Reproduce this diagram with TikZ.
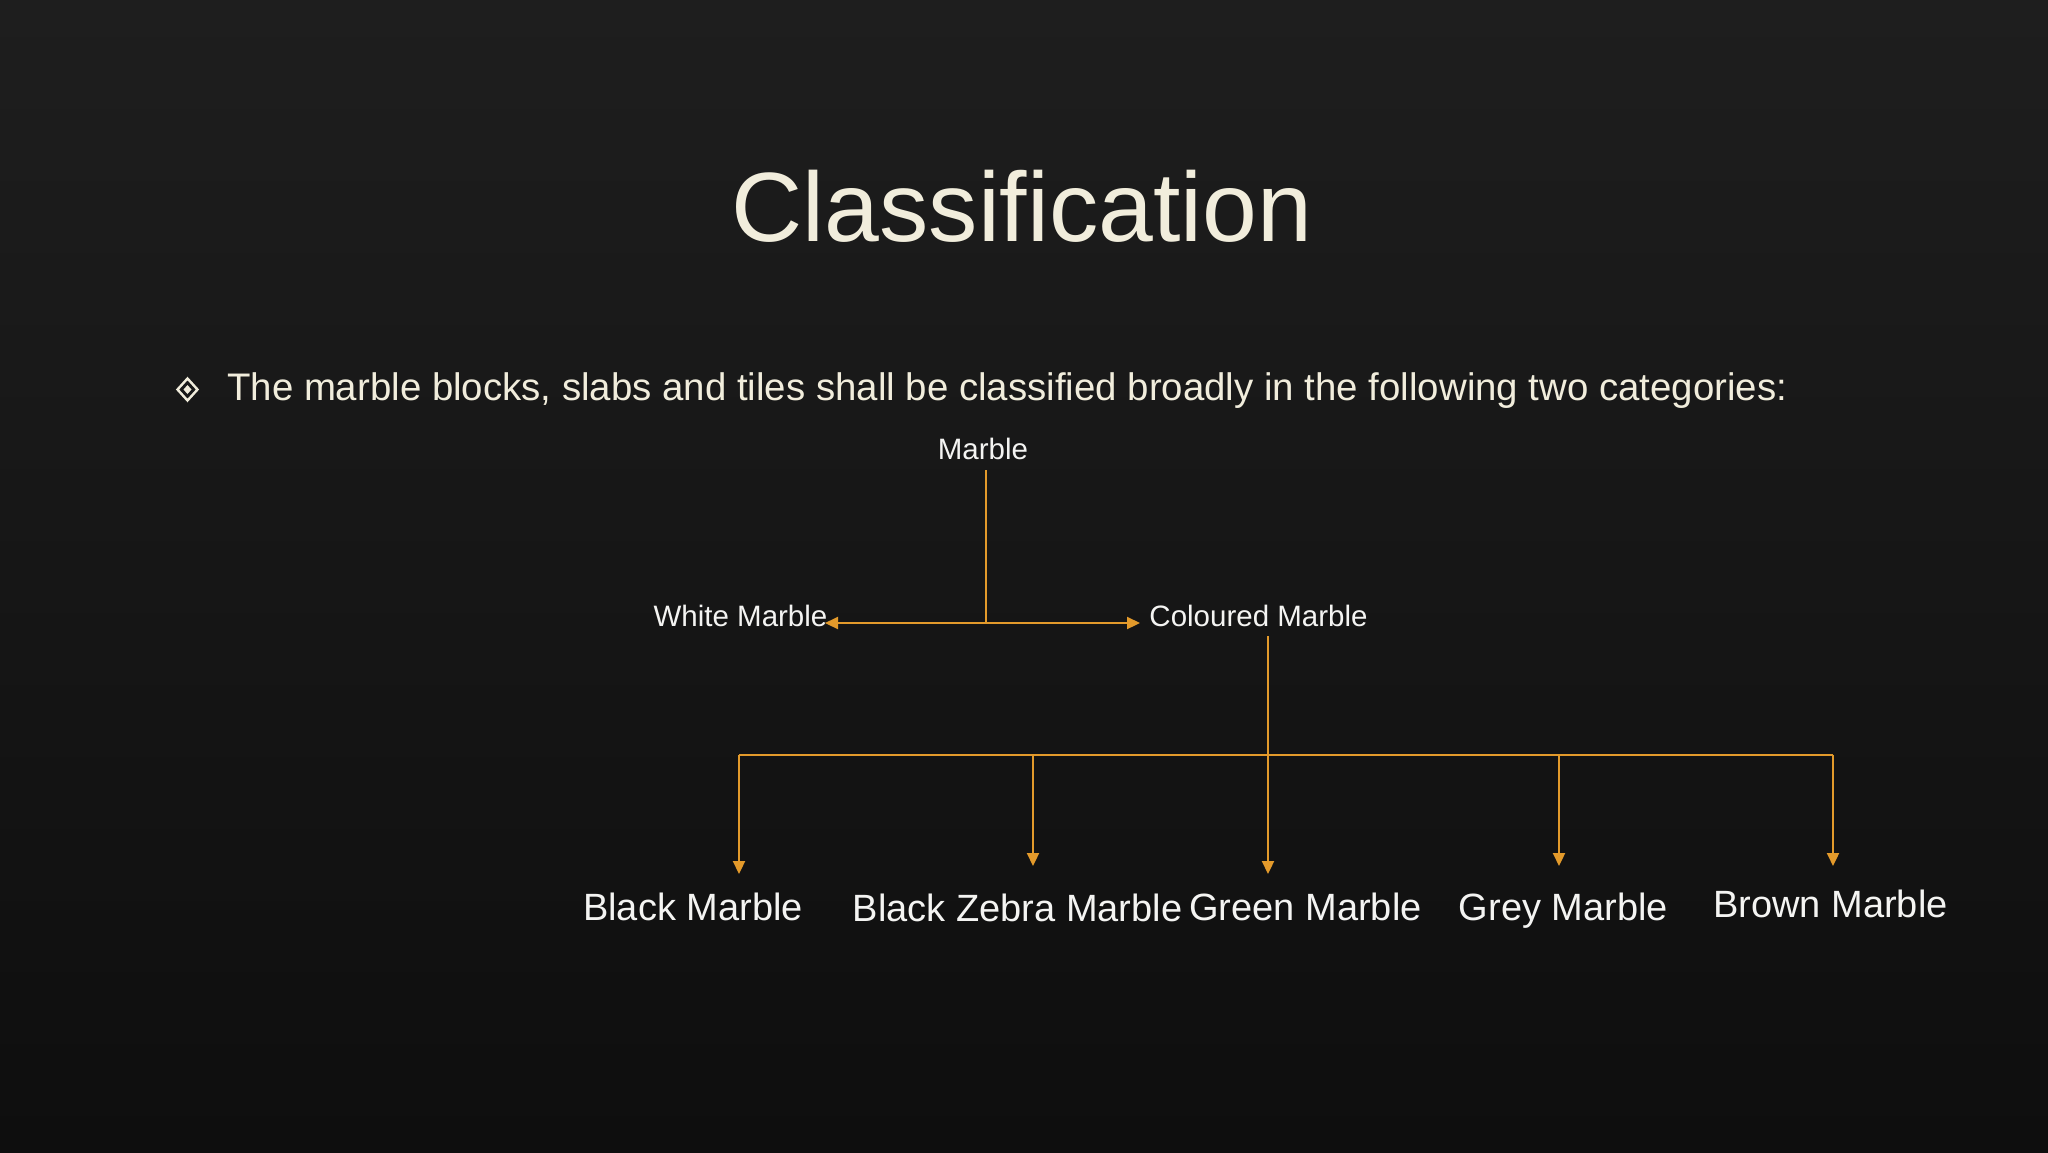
\documentclass[tikz,border=0pt]{standalone}
\usepackage{fontspec}
\setmainfont{Liberation Sans}
\usetikzlibrary{arrows.meta}
\definecolor{cream}{HTML}{F1EDDC}
\definecolor{labwhite}{HTML}{F4F4F2}
\definecolor{arrowc}{HTML}{E39A2B}
\definecolor{bgtop}{HTML}{1E1E1E}
\definecolor{bgbot}{HTML}{0E0E0E}
\tikzset{
  title/.style={text=cream, inner sep=0pt, font=\fontsize{98.5}{118}\selectfont},
  body/.style={text=cream, inner sep=0pt, font=\fontsize{38.4}{46}\selectfont},
  small/.style={text=labwhite, inner sep=0pt, font=\fontsize{29.5}{36}\selectfont},
  leaf/.style={text=labwhite, inner sep=0pt, font=\fontsize{38}{46}\selectfont},
  conn/.style={draw=arrowc, line width=2.2pt},
  arr/.style={conn, -{Triangle[length=13pt,width=12pt]}}
}
\begin{document}
\begin{tikzpicture}[x=1pt,y=-1pt]
\useasboundingbox (0,0) rectangle (2048,1152);
\shade[top color=bgtop, bottom color=bgbot] (0,0) rectangle (2048,1152);
% title and bullet
\node[title, anchor=base] (title) at (1022,241) {Classification};
\draw[cream, line width=2.4pt] (177.5,389.5) -- (187.5,378.5) -- (197.5,389.5) -- (187.5,400.5) -- cycle;
\fill[cream] (183.5,389.5) -- (187.5,385) -- (191.5,389.5) -- (187.5,394) -- cycle;
\node[body, anchor=base west] (intro) at (227,400) {The marble blocks, slabs and tiles shall be classified broadly in the following two categories:};
% first level
\node[small, anchor=base] (marble) at (983,459.5) {Marble};
\node[small, anchor=base] (white) at (740.5,626.5) {White Marble};
\node[small, anchor=base] (coloured) at (1258.5,626.5) {Coloured Marble};
\coordinate (j1) at (986,623);
\draw[conn] (j1 |- 0,470) -- (j1);
\draw[arr] (j1) -- (825,623);
\draw[arr] (j1) -- (1140,623);
% second level
\node[leaf, anchor=base] (black) at (693,920) {Black Marble};
\node[leaf, anchor=base] (zebra) at (1017.5,921) {Black Zebra Marble};
\node[leaf, anchor=base] (green) at (1305.5,920) {Green Marble};
\node[leaf, anchor=base] (grey) at (1563.5,920) {Grey Marble};
\node[leaf, anchor=base] (brown) at (1830.5,917.5) {Brown Marble};
\coordinate (b1) at (739,755);
\coordinate (b2) at (1033,755);
\coordinate (b3) at (1268,755);
\coordinate (b4) at (1559,755);
\coordinate (b5) at (1833,755);
\coordinate (t1) at (739,874);
\coordinate (t2) at (1033,866);
\coordinate (t3) at (1268,874);
\coordinate (t4) at (1559,866);
\coordinate (t5) at (1833,866);
\draw[conn] (b3 |- 0,636) -- (b3);
\draw[conn] (b1) -- (b5);
\draw[arr] (b1) -- (t1);
\draw[arr] (b2) -- (t2);
\draw[arr] (b3) -- (t3);
\draw[arr] (b4) -- (t4);
\draw[arr] (b5) -- (t5);
\end{tikzpicture}
\end{document}
